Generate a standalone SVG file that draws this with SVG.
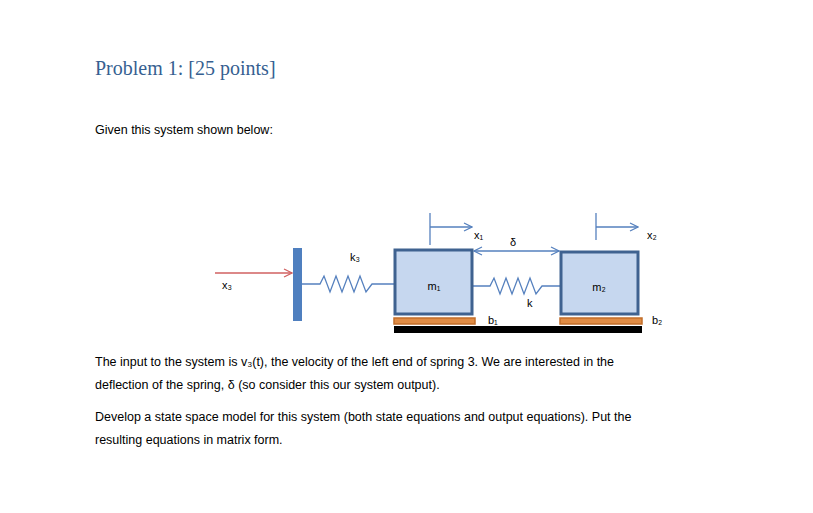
<svg xmlns="http://www.w3.org/2000/svg" width="813" height="513" viewBox="0 0 813 513">
<style>
.t{font-family:"Liberation Sans",Arial,sans-serif;font-size:12.5px;fill:#000}
.l{font-family:"Liberation Sans",Arial,sans-serif;font-size:11px;fill:#000}
.b{stroke:#5580BE;stroke-width:1.3;fill:none}
.m{fill:#C6D7EF;stroke:#3F6290;stroke-width:3}
.pad{fill:#E08C45;stroke:#C26E2A;stroke-width:1.5}
</style>
<defs>
<marker id="ab" markerWidth="10" markerHeight="10" refX="9" refY="5" orient="auto-start-reverse" markerUnits="userSpaceOnUse"><path d="M1,1 L9,5 L1,9" fill="none" stroke="#5580BE" stroke-width="1.2"/></marker>
<marker id="ar" markerWidth="10" markerHeight="10" refX="9" refY="5" orient="auto" markerUnits="userSpaceOnUse"><path d="M1,1 L9,5 L1,9" fill="none" stroke="#D06060" stroke-width="1.2"/></marker>
</defs>
<rect width="813" height="513" fill="#fff"/>
<text x="95" y="75" font-family="Liberation Serif,serif" font-size="20" fill="#365F91">Problem 1: [25 points]</text>
<text class="t" x="95" y="134">Given this system shown below:</text>
<g id="connectors">
<line x1="215" y1="273" x2="292" y2="273" stroke="#D06060" stroke-width="1.3" marker-end="url(#ar)"/>
<polyline class="b" points="302,284 320,284 324,276 330,292 336,276 342,292 348,276 354,292 360,276 366,292 372,284 394,284"/>
<polyline class="b" points="472,286 490,286 494,278 500,294 506,278 512,294 518,278 524,294 530,278 536,294 542,286 560,286"/>
<line class="b" x1="430" y1="213" x2="430" y2="245"/>
<line class="b" x1="430" y1="227" x2="472" y2="227" marker-end="url(#ab)"/>
<line class="b" x1="596" y1="213" x2="596" y2="240"/>
<line class="b" x1="596" y1="227" x2="638" y2="227" marker-end="url(#ab)"/>
<line class="b" x1="474" y1="251" x2="559" y2="251" marker-start="url(#ab)" marker-end="url(#ab)"/>
</g>
<g id="wall"><rect x="293" y="248" width="9" height="73" fill="#4F7FBF"/></g>
<g id="m1"><rect class="m" x="395" y="250" width="77" height="64"/><text class="l" x="434" y="290" text-anchor="middle">m₁</text></g>
<g id="m2"><rect class="m" x="561" y="252" width="77" height="62"/><text class="l" x="599" y="291" text-anchor="middle">m₂</text></g>
<g id="b1"><rect class="pad" x="394" y="318" width="81" height="6"/></g>
<g id="b2"><rect class="pad" x="560" y="318" width="82" height="6"/></g>
<g id="ground"><rect x="394" y="326" width="248" height="7" fill="#000"/></g>
<text class="l" x="222" y="289">x₃</text>
<text class="l" x="350" y="261">k₃</text>
<text class="l" x="474" y="239">x₁</text>
<text class="l" x="647" y="239">x₂</text>
<text class="l" x="510" y="246">δ</text>
<text class="l" x="527" y="307">k</text>
<text class="l" x="488" y="324">b₁</text>
<text class="l" x="652" y="324">b₂</text>
<text class="t" x="95" y="366">The input to the system is v₃(t), the velocity  of the left end of spring 3.  We are interested in the</text>
<text class="t" x="95" y="389">deflection of the spring, δ (so consider this our system output).</text>
<text class="t" x="95" y="421">Develop a state space model for this system (both state equations and output equations). Put the</text>
<text class="t" x="95" y="444">resulting equations in matrix form.</text>
</svg>
